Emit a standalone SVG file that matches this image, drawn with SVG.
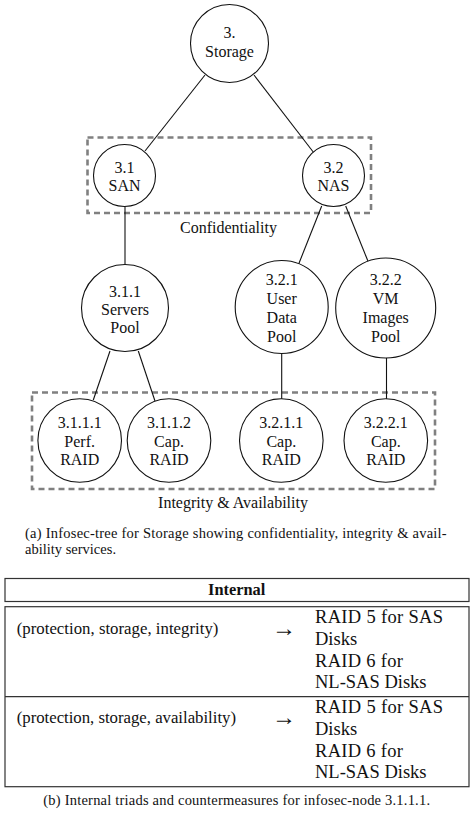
<svg xmlns="http://www.w3.org/2000/svg" width="474" height="813" viewBox="0 0 474 813" font-family="'Liberation Serif', 'DejaVu Serif', 'Times New Roman', Times, serif">
<style>
text{font-family:'Liberation Serif','DejaVu Serif','Times New Roman',Times,serif;fill:#111}
.n{font-size:16px;text-anchor:middle}
.c{fill:#fff;stroke:#111;stroke-width:1.1}
.e{stroke:#111;stroke-width:1.1;fill:none}
.d{fill:none;stroke:#808080;stroke-width:2.6;stroke-dasharray:6 4}
.t{font-size:16.8px}
.a{font-size:24px}
.r{font-size:18.5px}
.cap{font-size:14.5px}
.b{fill:none;stroke:#333;stroke-width:1.2}
</style>
<rect width="474" height="813" fill="#fff"/>
<g id="groups">
<rect class="d" x="87.5" y="137.5" width="283.5" height="75.5"/>
<rect class="d" x="32" y="392.5" width="403" height="96.5"/>
<text class="n" x="228.5" y="233">Confidentiality</text>
<text class="n" x="233" y="508">Integrity &amp; Availability</text>
</g>
<g id="connectors">
<line class="e" x1="205" y1="75" x2="145" y2="151"/>
<line class="e" x1="254" y1="75" x2="314" y2="153"/>
<line class="e" x1="125" y1="206.5" x2="125" y2="264"/>
<line class="e" x1="321.7" y1="206" x2="298.3" y2="265"/>
<line class="e" x1="345.7" y1="206" x2="368.3" y2="262"/>
<line class="e" x1="110" y1="351" x2="93.3" y2="400"/>
<line class="e" x1="138.3" y1="351" x2="155" y2="401"/>
<line class="e" x1="281.7" y1="354" x2="281.7" y2="399"/>
<line class="e" x1="386.5" y1="358" x2="386.5" y2="399"/>
</g>
<g id="n3"><circle class="c" cx="229.5" cy="43.5" r="39"/><text class="n" x="229.5" y="38">3.</text><text class="n" x="229.5" y="57">Storage</text></g>
<g id="n31"><circle class="c" cx="124.5" cy="175.5" r="31"/><text class="n" x="124.5" y="173">3.1</text><text class="n" x="124.5" y="191">SAN</text></g>
<g id="n32"><circle class="c" cx="333.5" cy="175.5" r="31"/><text class="n" x="333.5" y="173">3.2</text><text class="n" x="333.5" y="191">NAS</text></g>
<g id="n311"><circle class="c" cx="125" cy="308" r="43.5"/><text class="n" x="125" y="296.5">3.1.1</text><text class="n" x="125" y="314.5">Servers</text><text class="n" x="125" y="332.5">Pool</text></g>
<g id="n321"><circle class="c" cx="281.7" cy="307" r="46.5"/><text class="n" x="281.7" y="285">3.2.1</text><text class="n" x="281.7" y="304">User</text><text class="n" x="281.7" y="323">Data</text><text class="n" x="281.7" y="342">Pool</text></g>
<g id="n322"><circle class="c" cx="385.7" cy="308" r="50"/><text class="n" x="385.7" y="285">3.2.2</text><text class="n" x="385.7" y="304">VM</text><text class="n" x="385.7" y="323">Images</text><text class="n" x="385.7" y="342">Pool</text></g>
<g id="n3111"><circle class="c" cx="79.7" cy="440.5" r="41.8"/><text class="n" x="79.7" y="428.3">3.1.1.1</text><text class="n" x="79.7" y="446.7">Perf.</text><text class="n" x="79.7" y="465">RAID</text></g>
<g id="n3112"><circle class="c" cx="169" cy="440.5" r="41.8"/><text class="n" x="169" y="428.3">3.1.1.2</text><text class="n" x="169" y="446.7">Cap.</text><text class="n" x="169" y="465">RAID</text></g>
<g id="n3211"><circle class="c" cx="281.3" cy="440.5" r="41.8"/><text class="n" x="281.3" y="428.3">3.2.1.1</text><text class="n" x="281.3" y="446.7">Cap.</text><text class="n" x="281.3" y="465">RAID</text></g>
<g id="n3221"><circle class="c" cx="385.8" cy="440.5" r="41.8"/><text class="n" x="385.8" y="428.3">3.2.2.1</text><text class="n" x="385.8" y="446.7">Cap.</text><text class="n" x="385.8" y="465">RAID</text></g>
<g id="captionA">
<text class="cap" x="25" y="538.3" textLength="421.7" lengthAdjust="spacing">(a) Infosec-tree for Storage showing confidentiality, integrity &amp; avail-</text>
<text class="cap" x="25" y="554.3">ability services.</text>
</g>
<g id="table">
<rect class="b" x="5" y="578.5" width="464" height="23"/>
<text x="236.7" y="595" style="font-size:16.4px;font-weight:bold;text-anchor:middle">Internal</text>
<rect class="b" x="5" y="606.7" width="464" height="180"/>
<line class="b" x1="5" y1="696.7" x2="469" y2="696.7"/>
<text class="t" x="16.7" y="634" textLength="201.7" lengthAdjust="spacing">(protection, storage, integrity)</text>
<text class="a" x="284" y="636" text-anchor="middle">→</text>
<text class="r" x="315" y="623.3" textLength="128" lengthAdjust="spacing">RAID 5 for SAS</text>
<text class="r" x="315" y="645">Disks</text>
<text class="r" x="315" y="666.5" textLength="88" lengthAdjust="spacing">RAID 6 for</text>
<text class="r" x="315" y="688">NL-SAS Disks</text>
<text class="t" x="16.7" y="723.3" textLength="219.3" lengthAdjust="spacing">(protection, storage, availability)</text>
<text class="a" x="284" y="725.3" text-anchor="middle">→</text>
<text class="r" x="315" y="713.3" textLength="128" lengthAdjust="spacing">RAID 5 for SAS</text>
<text class="r" x="315" y="735">Disks</text>
<text class="r" x="315" y="756.7" textLength="88" lengthAdjust="spacing">RAID 6 for</text>
<text class="r" x="315" y="778.3">NL-SAS Disks</text>
</g>
<g id="captionB">
<text class="cap" x="43.3" y="805" textLength="386.7" lengthAdjust="spacing">(b) Internal triads and countermeasures for infosec-node 3.1.1.1.</text>
</g>
</svg>
